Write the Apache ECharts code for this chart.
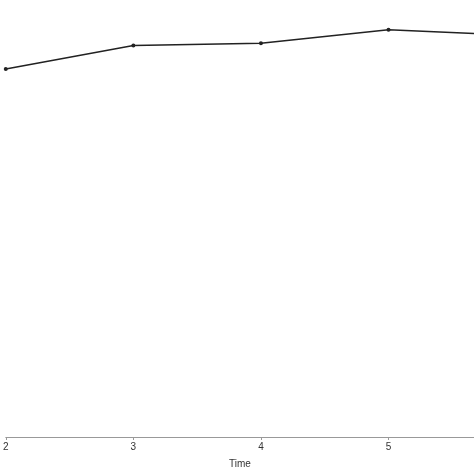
<!DOCTYPE html>
<html>
<head>
<meta charset="utf-8">
<script src="https://cdn.jsdelivr.net/npm/echarts@6/dist/echarts.min.js"></script>
<style>html,body{margin:0;padding:0;background:#fff}#chart{width:474px;height:474px}</style>
</head>
<body>
<div id="chart"></div>
<script>
var times = [2, 3, 4, 5, 6];
var values = [84.2, 89.6, 90.1, 93.2, 91.9];

var chart = echarts.init(document.getElementById('chart'));
chart.setOption({
    animation: false,
    grid: { left: 2, right: 0, top: 0, bottom: 31 },
    xAxis: {
        type: 'value',
        min: 2,
        max: 5.67,
        interval: 1,
        name: 'Time',
        nameLocation: 'middle',
        nameGap: 22,
        nameTextStyle: { color: '#333', fontSize: 10, fontFamily: 'Liberation Sans' },
        axisLine: { lineStyle: { color: '#999', width: 1 } },
        axisTick: { show: true, length: 3, lineStyle: { color: '#999' } },
        axisLabel: { color: '#333', fontSize: 10, fontFamily: 'Liberation Sans', margin: 5, showMaxLabel: false,
            formatter: function (v) { return Math.round(v) === v ? String(v) : ''; } },
        splitLine: { show: false }
    },
    yAxis: {
        type: 'value', min: 0, max: 100, show: false, splitLine: { show: false }
    },
    series: [{
        type: 'line',
        data: times.map(function (t, i) { return [t, values[i]]; }),
        symbol: 'circle',
        symbolSize: 4,
        clip: true,
        itemStyle: { color: '#222' },
        lineStyle: { color: '#222', width: 1.5 }
    }]
});
</script>
</body>
</html>
